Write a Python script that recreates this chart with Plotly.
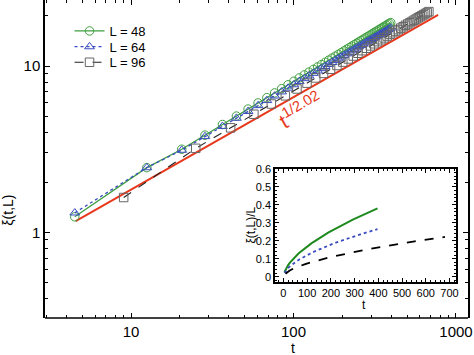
import plotly.graph_objects as go

# ---------------- data ----------------
t48 = [4.5, 12.5, 20.5, 28.5, 36.5, 44.5, 52.5, 60.5, 68.5, 76.5, 84.5, 92.5, 100.5, 108.5,
       116.5, 124.5, 132.5, 140.5, 148.5, 156.5, 164.5, 172.5, 180.5, 188.5, 196.5, 204.5,
       212.5, 220.5, 228.5, 236.5, 244.5, 252.5, 260.5, 268.5, 276.5, 284.5, 292.5, 300.5,
       308.5, 316.5, 324.5, 332.5, 340.5, 348.5, 356.5, 364.5, 372.5, 380.5, 388.5, 396.5]
xi48 = [1.24, 2.45, 3.16, 3.84, 4.45, 5.00, 5.51, 6.00, 6.45, 6.89, 7.31, 7.71, 8.10, 8.48,
        8.84, 9.19, 9.54, 9.87, 10.20, 10.52, 10.84, 11.15, 11.45, 11.75, 12.04, 12.33,
        12.62, 12.90, 13.17, 13.44, 13.71, 13.97, 14.23, 14.49, 14.75, 14.99, 15.24, 15.49,
        15.73, 15.97, 16.20, 16.44, 16.67, 16.91, 17.13, 17.36, 17.58, 17.81, 18.03, 18.25]

t64 = [4.5, 12.5, 20.5, 28.5, 36.5, 44.5, 52.5, 60.5, 68.5, 76.5, 84.5, 92.5, 100.5, 108.5,
       116.5, 124.5, 132.5, 140.5, 148.5, 156.5, 164.5, 172.5, 180.5, 188.5, 196.5, 204.5,
       212.5, 220.5, 228.5, 236.5, 244.5, 252.5, 260.5, 268.5, 276.5, 284.5, 292.5, 300.5,
       308.5, 316.5, 324.5, 332.5, 340.5, 348.5, 356.5, 364.5, 372.5, 380.5, 388.5, 396.5]
xi64 = [1.31, 2.45, 3.12, 3.77, 4.34, 4.86, 5.34, 5.79, 6.21, 6.61, 7.00, 7.37, 7.73, 8.08,
        8.41, 8.74, 9.05, 9.36, 9.66, 9.96, 10.24, 10.52, 10.80, 11.07, 11.34, 11.60,
        11.86, 12.11, 12.36, 12.60, 12.85, 13.09, 13.32, 13.55, 13.78, 14.01, 14.23, 14.45,
        14.67, 14.89, 15.10, 15.31, 15.52, 15.73, 15.93, 16.13, 16.33, 16.53, 16.73, 16.93]

t96 = [9, 25, 41, 57, 73, 89, 105, 121, 137, 153, 169, 185, 201, 217, 233, 249, 265, 281,
       297, 313, 329, 345, 361, 377, 393, 409, 425, 441, 457, 473, 489, 505, 521, 537, 553,
       569, 585, 601, 617, 633, 649, 665, 681]
xi96 = [1.62, 3.20, 4.25, 5.13, 5.91, 6.62, 7.28, 7.89, 8.48, 9.03, 9.56, 10.07, 10.56,
        11.03, 11.49, 11.94, 12.37, 12.79, 13.21, 13.61, 14.01, 14.39, 14.77, 15.14, 15.51,
        15.86, 16.22, 16.56, 16.90, 17.24, 17.57, 17.90, 18.22, 18.54, 18.86, 19.17, 19.48,
        19.78, 20.08, 20.37, 20.67, 20.96, 21.24]

t_fit = [4.56, 776]
xi_fit = [1.17, 20.3]
fit_label = "t<sup>1/2.02</sup>"

series_L = [48, 64, 96]
band_range = [0.2, 0.225]

main_xticks = [10, 100, 1000]
main_yticks = [1, 10]

# ---------------- styles ----------------
GREEN = "#3f9f3f"
BLUE = "#3a4cc0"
DARK = "#222222"
GRAYM = "#666666"
RED = "#e8381c"
FONT = "Liberation Sans, Arial, Helvetica, sans-serif"

fig = go.Figure()

fig.add_trace(go.Scatter(x=t_fit, y=xi_fit, mode="lines", line=dict(color=RED, width=2),
                         showlegend=False, hoverinfo="skip"))

fig.add_trace(go.Scatter(x=t48, y=xi48, mode="lines+markers", name="L = %d" % series_L[0],
                         legend="legend",
                         line=dict(color=GREEN, width=1.3),
                         marker=dict(symbol="circle-open", size=8.5, color=GREEN, line=dict(width=1))))
fig.add_trace(go.Scatter(x=t64, y=xi64, mode="lines+markers", name="L = %d" % series_L[1],
                         legend="legend2",
                         line=dict(color=BLUE, width=1.3, dash="dot"),
                         marker=dict(symbol="triangle-up-open", size=8.5, color=BLUE, line=dict(width=1))))
fig.add_trace(go.Scatter(x=t96, y=xi96, mode="lines+markers", name="L = %d" % series_L[2],
                         legend="legend3",
                         line=dict(color=DARK, width=1.1, dash="dash"),
                         marker=dict(symbol="square-open", size=8.5, color=GRAYM, line=dict(width=1))))

# inset: xi / L versus t
fig.add_trace(go.Scatter(x=t48, y=[v / series_L[0] for v in xi48], mode="lines",
                         line=dict(color="#1e8a1e", width=2), xaxis="x2", yaxis="y2",
                         showlegend=False))
fig.add_trace(go.Scatter(x=t64, y=[v / series_L[1] for v in xi64], mode="lines",
                         line=dict(color=BLUE, width=1.8, dash="dot"), xaxis="x2", yaxis="y2",
                         showlegend=False))
fig.add_trace(go.Scatter(x=t96, y=[v / series_L[2] for v in xi96], mode="lines",
                         line=dict(color="black", width=1.8, dash="dash"), xaxis="x2", yaxis="y2",
                         showlegend=False))

H_PLOT = 318.0
def leg(ypix):
    return dict(x=0.058, y=1 - ypix / H_PLOT, xanchor="left", yanchor="middle",
                bgcolor="rgba(0,0,0,0)", font=dict(size=13, family=FONT), itemwidth=30)

fig.update_layout(
    width=474, height=355,
    margin=dict(l=45, r=6, t=0, b=37, autoexpand=False),
    paper_bgcolor="white", plot_bgcolor="white",
    font=dict(family=FONT, color="black", size=15),
    showlegend=True,
    legend=leg(31), legend2=leg(46.7), legend3=leg(62.3),
    xaxis=dict(type="log", range=[0.470, 3.074], tickvals=main_xticks,
               ticktext=[str(v) for v in main_xticks], ticks="inside", ticklen=5,
               tickcolor="black", showline=True, linecolor="rgba(0,0,0,0)", mirror="ticks",
               showgrid=False, zeroline=False, tickfont=dict(size=15),
               minor=dict(ticks="inside", ticklen=3, tickcolor="black", dtick="D1", showgrid=False)),
    yaxis=dict(type="log", range=[-0.515, 1.397], tickvals=main_yticks,
               ticktext=[str(v) for v in main_yticks], ticks="inside", ticklen=5,
               tickcolor="black", showline=True, linecolor="black", linewidth=1.5,
               mirror="ticks", showgrid=False, zeroline=False, tickfont=dict(size=15),
               minor=dict(ticks="inside", ticklen=3, tickcolor="black", dtick="D1", showgrid=False)),
    xaxis2=dict(domain=[0.544, 0.972], anchor="y2", range=[-35, 728], dtick=100, tick0=0,
                ticks="inside", ticklen=4, tickcolor="black", showline=True, linecolor="black",
                linewidth=1.5, mirror="ticks", showgrid=False, zeroline=False,
                tickfont=dict(size=11),
                minor=dict(ticks="inside", ticklen=2, dtick=20, tick0=0, tickcolor="black", showgrid=False)),
    yaxis2=dict(domain=[0.114, 0.469], anchor="x2", range=[-0.028, 0.6], dtick=0.1, tick0=0,
                ticks="inside", ticklen=4, tickcolor="black", showline=True, linecolor="black",
                linewidth=1.5, mirror="ticks", showgrid=False, zeroline=False,
                tickfont=dict(size=11),
                minor=dict(ticks="inside", ticklen=2, dtick=0.02, tick0=0, tickcolor="black", showgrid=False)),
    shapes=[
        dict(type="line", xref="paper", yref="paper", x0=0, x1=1, y0=0, y1=0,
             line=dict(color="black", width=1.5)),
        dict(type="rect", xref="x2 domain", yref="y2", x0=0, x1=1,
             y0=band_range[0], y1=band_range[1], fillcolor="#d4d4d4",
             line=dict(width=0), layer="below"),
    ],
    annotations=[
        dict(text="t", xref="paper", yref="paper", x=0.587, y=-0.094, showarrow=False,
             font=dict(size=14), xanchor="center", yanchor="middle"),
        dict(text="ξ(t,L)", xref="paper", yref="paper", x=-0.088, y=0.34, showarrow=False,
             textangle=-90, font=dict(size=14), xanchor="center", yanchor="middle"),
        dict(text="t", xref="paper", yref="paper", x=0.755, y=0.041, showarrow=False,
             font=dict(size=12), xanchor="center", yanchor="middle"),
        dict(text="ξ(t,L)/L", xref="paper", yref="paper", x=0.488, y=0.292, showarrow=False,
             textangle=-90, font=dict(size=12), xanchor="center", yanchor="middle"),
        dict(text=fit_label, xref="paper", yref="paper", x=0.603, y=0.655, showarrow=False,
             textangle=-30, font=dict(size=21, color=RED), xanchor="center", yanchor="middle"),
    ],
)

fig.write_html("out.html", config={"displayModeBar": False},
               post_script="document.body.style.margin='0';")
